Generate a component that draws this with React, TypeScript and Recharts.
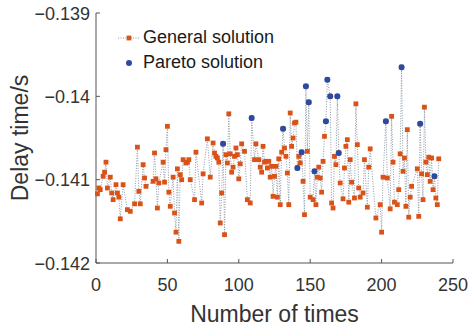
import { ComposedChart, Line, XAxis, YAxis } from 'recharts'

// run index of each solution (x) and its delay time (y)
const runIdx = [
  1, 2, 3, 5, 6, 7, 8, 10, 11, 12, 14, 15, 16, 17, 19, 22, 24, 27, 29, 30,
  31, 33, 34, 35, 40, 41, 42, 43, 44, 47, 48, 49, 50, 51, 52, 54, 55, 56, 57, 58,
  59, 60, 61, 63, 64, 65, 66, 69, 70, 74, 75, 78, 80, 82, 83, 84, 85, 86, 87, 88,
  89, 90, 91, 92, 93, 94, 95, 96, 97, 98, 99, 100, 101, 102, 104, 106, 108, 109, 111, 112,
  114, 115, 116, 117, 118, 119, 120, 121, 122, 123, 124, 125, 126, 127, 128, 129, 130, 131, 132, 133,
  134, 135, 136, 137, 138, 139, 140, 141, 142, 143, 144, 145, 146, 147, 148, 149, 150, 152, 153, 154,
  155, 156, 157, 158, 159, 160, 161, 162, 164, 165, 166, 167, 168, 169, 170, 171, 173, 174, 175, 176,
  177, 178, 179, 181, 182, 183, 184, 185, 187, 188, 190, 191, 192, 196, 199, 200, 201, 203, 204, 206,
  207, 208, 209, 211, 212, 213, 214, 215, 216, 217, 218, 219, 220, 221, 225, 226, 227, 228, 229, 230,
  231, 232, 233, 234, 235, 236, 237, 238, 239, 240,
]

const delayTime = [
  -0.14117, -0.1411, -0.14112, -0.14096, -0.14091, -0.14079, -0.1411, -0.14097, -0.14116, -0.14124,
  -0.14106, -0.14116, -0.14121, -0.14147, -0.14106, -0.14136, -0.14138, -0.14129, -0.14061, -0.14114,
  -0.14129, -0.14082, -0.14098, -0.14108, -0.14102, -0.14068, -0.14099, -0.14134, -0.14104, -0.14079,
  -0.14103, -0.14064, -0.14036, -0.14115, -0.14132, -0.14097, -0.1414, -0.14163, -0.14087, -0.14174,
  -0.14094, -0.141, -0.14076, -0.1408, -0.14079, -0.14076, -0.141, -0.14124, -0.14067, -0.14128,
  -0.14093, -0.14051, -0.14097, -0.14056, -0.14068, -0.14072, -0.14074, -0.14079, -0.14152, -0.14116,
  -0.14057, -0.14166, -0.1407, -0.1408, -0.14021, -0.14069, -0.14091, -0.14085, -0.14072, -0.14062,
  -0.1407, -0.14099, -0.14081, -0.14057, -0.14066, -0.14124, -0.14128, -0.14026, -0.14076, -0.14057,
  -0.14076, -0.14085, -0.14091, -0.1406, -0.14079, -0.14078, -0.14086, -0.14078, -0.14097, -0.14084,
  -0.1412, -0.14096, -0.14084, -0.14121, -0.14075, -0.1413, -0.14067, -0.14039, -0.14062, -0.14072,
  -0.14092, -0.1413, -0.1402, -0.1406, -0.1405, -0.14032, -0.14031, -0.14086, -0.14072, -0.1408,
  -0.14067, -0.14102, -0.14142, -0.13988, -0.14066, -0.14007, -0.14121, -0.14124, -0.1409, -0.1413,
  -0.14097, -0.14085, -0.14098, -0.14115, -0.14078, -0.14048, -0.1403, -0.1398, -0.14, -0.14128,
  -0.14134, -0.14072, -0.14082, -0.14, -0.14068, -0.14104, -0.14123, -0.14086, -0.1406, -0.14052,
  -0.14127, -0.14076, -0.14103, -0.14122, -0.14009, -0.14058, -0.1411, -0.14121, -0.14116, -0.14076,
  -0.14133, -0.14085, -0.14063, -0.14146, -0.1413, -0.14163, -0.14097, -0.1403, -0.14098, -0.14135,
  -0.14024, -0.14079, -0.14127, -0.1413, -0.14112, -0.14069, -0.13965, -0.1409, -0.14074, -0.14132,
  -0.1404, -0.14145, -0.14121, -0.14108, -0.14087, -0.14144, -0.14033, -0.14093, -0.14124, -0.14013,
  -0.14079, -0.14094, -0.14073, -0.14102, -0.14074, -0.14112, -0.14096, -0.14122, -0.1413, -0.14075,
]

// runs that are on the Pareto front
const paretoRuns = [89, 109, 131, 141, 144, 147, 149, 153, 161, 162, 164, 169, 170, 203, 214, 227, 237]

const xTicks = [0, 50, 100, 150, 200, 250]
const yTicks = [-0.142, -0.141, -0.14, -0.139]

const ORANGE = '#D95319'
const BLUE = '#2B4BA3'
const AXIS = '#555555'
const TEXT = '#333333'
const FONT = '"Liberation Sans", Arial, Helvetica, sans-serif'

const data = runIdx.map((x, i) => ({
  x,
  general: delayTime[i],
  pareto: paretoRuns.includes(x) ? delayTime[i] : null,
}))

const SquareDot = (props: any) => {
  const { cx, cy, index } = props
  if (cx == null || cy == null) return <g key={index} />
  return <rect key={index} x={cx - 2.4} y={cy - 2.4} width={4.8} height={4.8} fill={ORANGE} />
}

const CircleDot = (props: any) => {
  const { cx, cy, value, index } = props
  if (value == null || cx == null || cy == null) return <g key={index} />
  return <circle key={index} cx={cx} cy={cy} r={3} fill={BLUE} />
}

const XTick = ({ x, y, payload }: any) => (
  <g>
    <line x1={x} x2={x} y1={y} y2={y - 4} stroke={AXIS} />
    <text x={x} y={y + 28} textAnchor="middle" fontSize={18} fill={TEXT} fontFamily={FONT}>
      {payload.value}
    </text>
  </g>
)

const YTick = ({ x, y, payload }: any) => (
  <g>
    <line x1={x} x2={x + 4} y1={y} y2={y} stroke={AXIS} />
    <text x={x - 6} y={y + 6.5} textAnchor="end" fontSize={18} fill={TEXT} fontFamily={FONT}>
      {String(payload.value).replace('-', '\u2212')}
    </text>
  </g>
)

const YTitle = ({ viewBox }: any) => {
  const cy = viewBox.y + viewBox.height / 2
  return (
    <text
      x={20}
      y={cy}
      transform={`rotate(-90 20 ${cy})`}
      textAnchor="middle"
      dominantBaseline="central"
      fontSize={23}
      fill={TEXT}
      fontFamily={FONT}
    >
      Delay time/s
    </text>
  )
}

export default function App() {
  return (
    <div style={{ position: 'absolute', left: 0, top: 0, width: 474, height: 326, background: '#fff' }}>
      <ComposedChart width={474} height={326} data={data} margin={{ top: 13, right: 21, bottom: 0, left: 0 }}>
        <XAxis
          type="number"
          dataKey="x"
          domain={[0, 250]}
          ticks={xTicks}
          tickSize={0}
          tickMargin={0}
          tick={<XTick />}
          tickLine={false}
          axisLine={{ stroke: AXIS }}
          height={63}
          label={{
            value: 'Number of times',
            position: 'insideBottom',
            offset: 4,
            fontSize: 23,
            fill: TEXT,
            fontFamily: FONT,
          }}
        />
        <YAxis
          type="number"
          domain={[-0.142, -0.139]}
          ticks={yTicks}
          tickSize={0}
          tickMargin={0}
          tick={<YTick />}
          tickLine={false}
          axisLine={{ stroke: AXIS }}
          width={96}
          label={<YTitle />}
        />
        <Line
          dataKey="general"
          stroke="#8d9aa6"
          strokeWidth={1}
          strokeDasharray="1 1.5"
          dot={<SquareDot />}
          activeDot={false}
          isAnimationActive={false}
        />
        <Line
          dataKey="pareto"
          stroke="none"
          dot={<CircleDot />}
          activeDot={false}
          isAnimationActive={false}
        />
      </ComposedChart>
      <div
        style={{
          position: 'absolute',
          left: 117,
          top: 25,
          fontFamily: FONT,
          fontSize: 18,
          color: '#1a1a1a',
          lineHeight: '25px',
        }}
      >
        <div style={{ display: 'flex', alignItems: 'center' }}>
          <svg width={26} height={10}>
            <line x1={1} x2={22} y1={5} y2={5} stroke="#8d9aa6" strokeDasharray="1 1.5" />
            <rect x={9.6} y={2.6} width={4.8} height={4.8} fill={ORANGE} />
          </svg>
          <span>General solution</span>
        </div>
        <div style={{ display: 'flex', alignItems: 'center' }}>
          <svg width={26} height={10}>
            <circle cx={12} cy={5} r={3} fill={BLUE} />
          </svg>
          <span>Pareto solution</span>
        </div>
      </div>
    </div>
  )
}
